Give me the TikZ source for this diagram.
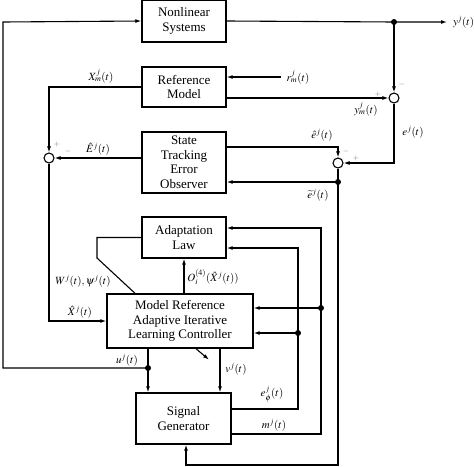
\documentclass[tikz,border=0pt]{standalone}
\usepackage{mathptmx}
\usepackage{fontspec}
\setmainfont{Liberation Serif}
\usetikzlibrary{arrows.meta,calc,positioning}

\begin{document}
\begin{tikzpicture}[x=1pt,y=-1pt,line width=1.1pt,
  block/.style={draw,line width=1.4pt,align=center,inner sep=0pt,font=\fontsize{13}{14.5}\selectfont},
  sumc/.style={draw,circle,minimum size=10pt,inner sep=0pt},
  dot/.style={circle,fill=black,minimum size=6pt,inner sep=0pt},
  lab/.style={font=\fontsize{11}{12}\selectfont,inner sep=0.5pt},
  sgn/.style={font=\fontsize{8}{8}\selectfont,text=black!60,inner sep=0pt},
  >={Latex[length=6pt,width=4pt]}]
\useasboundingbox (0,0) rectangle (474,466);

\node (nl) at (184,21) [block,minimum width=84pt,minimum height=42pt] {Nonlinear\\Systems};
\node (rm) at (184,87) [block,minimum width=84pt,minimum height=40pt] {Reference\\Model};
\node (ob) at (184,162.5) [block,minimum width=84pt,minimum height=61pt] {State\\Tracking\\Error\\Observer};
\node (al) at (184,237.5) [block,minimum width=84pt,minimum height=41pt] {Adaptation\\Law};
\node (mc) at (180,321) [block,minimum width=146pt,minimum height=54pt] {Model Reference\\Adaptive Iterative\\Learning Controller};
\node (sg) at (183.5,418.5) [block,minimum width=95pt,minimum height=51pt] {Signal\\Generator};

\node (s1) at (394,98) [sumc] {};
\node (s2) at (49,158) [sumc] {};
\node (s3) at (338,163) [sumc] {};

\coordinate (d1) at (394,22);
\coordinate (d2) at (338,182);
\coordinate (d3) at (148,368);
\coordinate (d4) at (321,308);
\coordinate (d5) at (298,333);
\coordinate (yo) at (447,22);
\coordinate (ri) at (281,77);
\coordinate (lc) at (3,22);
\coordinate (bc) at (338,465);
\coordinate (mo) at (321,434);
\coordinate (eo) at (298,409);
\coordinate (wk) at (97,258);
\coordinate (vc) at (220,0);

\draw[->] (d3) -| (lc) -- (nl.west);
\draw[->] (nl.east) -- (d1) -- (yo);
\draw[->] (d1) -- (s1.north);
\draw[->] (ri) -- (rm.east |- ri);
\draw[->] (rm.east |- s1) -- (s1.west);
\draw[->] (rm.west) -| (s2.north);
\draw[->] (s1.south) |- (s3.east);
\draw[->] ([yshift=15.5pt]ob.east) -| (s3.north);
\draw (s3.south) -- (d2);
\draw[->] (d2) -- (ob.east |- d2);
\draw[->] (d2) -- (bc) -| ([xshift=2.5pt]sg.south);
\draw[->] (ob.west |- s2) -- (s2.east);
\draw[->] (s2.south) |- (mc.west);
\draw[->] (al.south |- mc.north) -- (al.south);
\draw (al.west) -| (wk) -- ([xshift=-45pt]mc.north);
\draw[->] (sg.east |- mo) -| (d4) |- ([yshift=9.5pt]al.east);
\draw[->] (d4) -- (mc.east |- d4);
\draw[->] (sg.east |- eo) -| (d5) |- ([yshift=-10.5pt]al.east);
\draw[->] (d5) -- (mc.east |- d5);
\draw[->] (mc.south -| d3) -- (sg.north -| d3);
\draw[->] (mc.south -| vc) -- (sg.north -| vc);
\draw[->] ([xshift=16pt]mc.south) -- ++(13,11);

\foreach \d in {d1,d2,d3,d4,d5} \node at (\d) [dot] {};

\node (ly) at (452,22) [lab,anchor=west] {$y^j(t)$};
\node (lr) at (298,77) [lab] {$r_m^j(t)$};
\node (lym) at (366,109) [lab] {$y_m^j(t)$};
\node (lxm) at (101,76) [lab] {$X_m^j(t)$};
\node (lEh) at (98,149) [lab] {$\hat{E}^j(t)$};
\node (leh) at (322,135) [lab] {$\hat{e}^j(t)$};
\node (le) at (413,132) [lab] {$e^j(t)$};
\node (let) at (318,195) [lab] {$\widetilde{e}^j(t)$};
\node (lw) at (83,281) [lab] {$W^j(t),\psi^j(t)$};
\node (lo) at (213,277) [lab] {$O_i^{(4)}(\hat{X}^j(t))$};
\node (lxh) at (80,312) [lab] {$\hat{X}^j(t)$};
\node (lu) at (127,360) [lab] {$u^j(t)$};
\node (lv) at (236,369) [lab] {$v^j(t)$};
\node (lep) at (272,394) [lab] {$e_\phi^j(t)$};
\node (lm) at (274,425) [lab] {$m^j(t)$};

\node (p1) at (378,94) [sgn] {$+$};
\node (n1) at (402,84) [sgn] {$-$};
\node (p2) at (57,144) [sgn] {$+$};
\node (n2) at (68,151) [sgn] {$-$};
\node (n3) at (346,151) [sgn] {$-$};
\node (p3) at (356,158) [sgn] {$+$};
\end{tikzpicture}
\end{document}
